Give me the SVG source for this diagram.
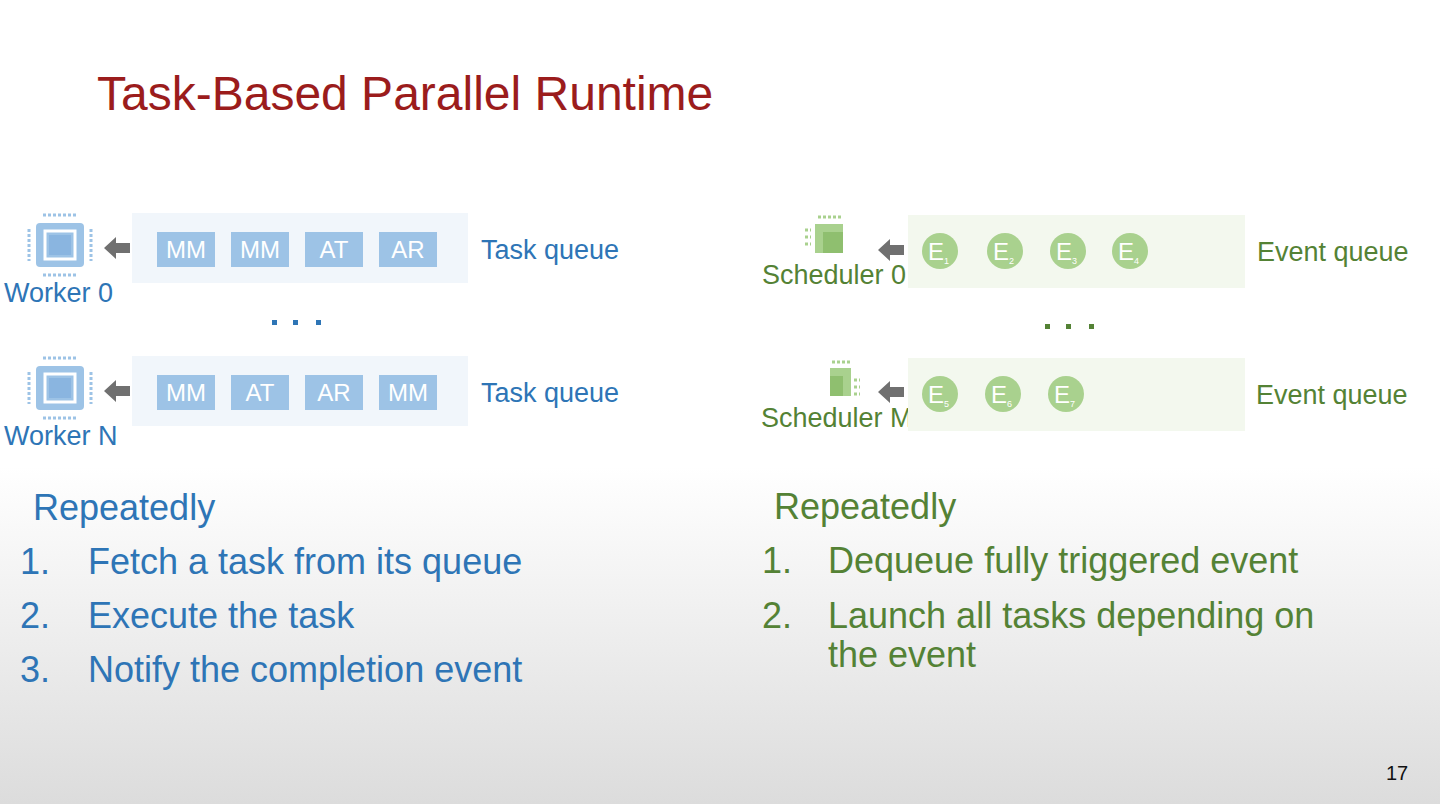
<svg xmlns="http://www.w3.org/2000/svg" width="1440" height="804" viewBox="0 0 1440 804">
<defs>
<linearGradient id="bg" x1="0" y1="0" x2="0" y2="1">
<stop offset="0" stop-color="#ffffff"/><stop offset="0.58" stop-color="#ffffff"/><stop offset="1" stop-color="#dcdcdc"/>
</linearGradient>
<g id="chip">
<rect x="-24" y="-22" width="48" height="44" rx="4" fill="#9dc3e6"/>
<rect x="-15" y="-14" width="30" height="28" fill="none" stroke="#ffffff" stroke-width="3"/>
<rect x="-11" y="-10" width="22" height="20" fill="#8ab5e0"/>
<path d="M-17 -30h34M-17 30h34M-31 -16v32M31 -16v32" stroke="#9dc3e6" stroke-width="3" stroke-dasharray="3 2"/>
</g>
<path id="arr" d="M0 0l12 -11v6h14v10h-14v6z" fill="#707070"/>
</defs>
<style>
text{font-family:"Liberation Sans",Arial,sans-serif}
.b{fill:#2e75b6}.g{fill:#548235}
.box{fill:#9dc3e6}.bt{fill:#fff;font-size:24px;text-anchor:middle}
.ev{fill:#a9d18e}.et{fill:#fff;font-size:24px}.es{fill:#fff;font-size:9px}
.lbl{font-size:27px}.big{font-size:36px}
</style>
<rect width="1440" height="804" fill="url(#bg)"/>
<text x="97" y="110" font-size="48" fill="#9b1c1c">Task-Based Parallel Runtime</text>

<g id="worker0">
<use href="#chip" x="60" y="245"/>
<text x="4" y="302" class="lbl b">Worker 0</text>
</g>
<g id="queue0">
<rect x="132" y="213" width="336" height="70" fill="#f1f6fb"/>
<rect x="157" y="232" width="58" height="35" class="box"/><text x="186" y="258" class="bt">MM</text>
<rect x="231" y="232" width="58" height="35" class="box"/><text x="260" y="258" class="bt">MM</text>
<rect x="305" y="232" width="58" height="35" class="box"/><text x="334" y="258" class="bt">AT</text>
<rect x="379" y="232" width="58" height="35" class="box"/><text x="408" y="258" class="bt">AR</text>
<text x="481" y="259" class="lbl b">Task queue</text>
</g>
<g id="workerN">
<use href="#chip" x="60" y="388"/>
<text x="4" y="445" class="lbl b">Worker N</text>
</g>
<g id="queueN">
<rect x="132" y="356" width="336" height="70" fill="#f1f6fb"/>
<rect x="157" y="375" width="58" height="35" class="box"/><text x="186" y="401" class="bt">MM</text>
<rect x="231" y="375" width="58" height="35" class="box"/><text x="260" y="401" class="bt">AT</text>
<rect x="305" y="375" width="58" height="35" class="box"/><text x="334" y="401" class="bt">AR</text>
<rect x="379" y="375" width="58" height="35" class="box"/><text x="408" y="401" class="bt">MM</text>
<text x="481" y="402" class="lbl b">Task queue</text>
</g>
<g fill="#2e75b6"><rect x="272" y="320" width="5" height="5"/><rect x="293" y="320" width="5" height="5"/><rect x="316" y="320" width="5" height="5"/></g>

<g id="sched0">
<path d="M818 217h24M805 230h6M805 237h6M805 244h6" stroke="#a9d18e" stroke-width="3" stroke-dasharray="3 2"/>
<path d="M815 224h28v29h-28z" fill="#a9d18e"/><rect x="823" y="232" width="20" height="21" fill="#8fbf6f"/>
<text x="762" y="284" class="lbl g">Scheduler 0</text>
</g>
<g id="equeue0">
<rect x="908" y="215" width="337" height="73" fill="#f3f8ee"/>
<circle cx="940" cy="251" r="18" class="ev"/><text x="928" y="260" class="et">E</text><text x="944" y="264" class="es">1</text>
<circle cx="1005" cy="251" r="18" class="ev"/><text x="993" y="260" class="et">E</text><text x="1009" y="264" class="es">2</text>
<circle cx="1068" cy="251" r="18" class="ev"/><text x="1056" y="260" class="et">E</text><text x="1072" y="264" class="es">3</text>
<circle cx="1130" cy="251" r="18" class="ev"/><text x="1118" y="260" class="et">E</text><text x="1134" y="264" class="es">4</text>
<text x="1257" y="261" class="lbl g">Event queue</text>
</g>
<g id="schedM">
<path d="M832 362h20M854 380h6M854 387h6M854 394h6" stroke="#a9d18e" stroke-width="3" stroke-dasharray="3 2"/>
<path d="M830 368h21v28h-21z" fill="#a9d18e"/><rect x="830" y="376" width="13" height="20" fill="#8fbf6f"/>
<text x="761" y="427" class="lbl g">Scheduler M</text>
</g>
<g id="equeueM">
<rect x="908" y="358" width="337" height="73" fill="#f3f8ee"/>
<circle cx="940" cy="394" r="18" class="ev"/><text x="928" y="403" class="et">E</text><text x="944" y="407" class="es">5</text>
<circle cx="1003" cy="394" r="18" class="ev"/><text x="991" y="403" class="et">E</text><text x="1007" y="407" class="es">6</text>
<circle cx="1066" cy="394" r="18" class="ev"/><text x="1054" y="403" class="et">E</text><text x="1070" y="407" class="es">7</text>
<text x="1256" y="404" class="lbl g">Event queue</text>
</g>
<g fill="#548235"><rect x="1045" y="324" width="5" height="5"/><rect x="1066" y="324" width="5" height="5"/><rect x="1089" y="324" width="5" height="5"/></g>

<g id="connectors">
<use href="#arr" x="104" y="248"/>
<use href="#arr" x="104" y="391"/>
<use href="#arr" x="878" y="250"/>
<use href="#arr" x="878" y="392"/>
</g>

<g class="big b">
<text x="33" y="520">Repeatedly</text>
<text x="20" y="574">1.</text><text x="88" y="574">Fetch a task from its queue</text>
<text x="20" y="628">2.</text><text x="88" y="628">Execute the task</text>
<text x="20" y="682">3.</text><text x="88" y="682">Notify the completion event</text>
</g>
<g class="big g">
<text x="774" y="519">Repeatedly</text>
<text x="762" y="573">1.</text><text x="828" y="573">Dequeue fully triggered event</text>
<text x="762" y="628">2.</text><text x="828" y="628">Launch all tasks depending on</text>
<text x="828" y="667">the event</text>
</g>
<text x="1386" y="780" font-size="20" fill="#111">17</text>
</svg>
